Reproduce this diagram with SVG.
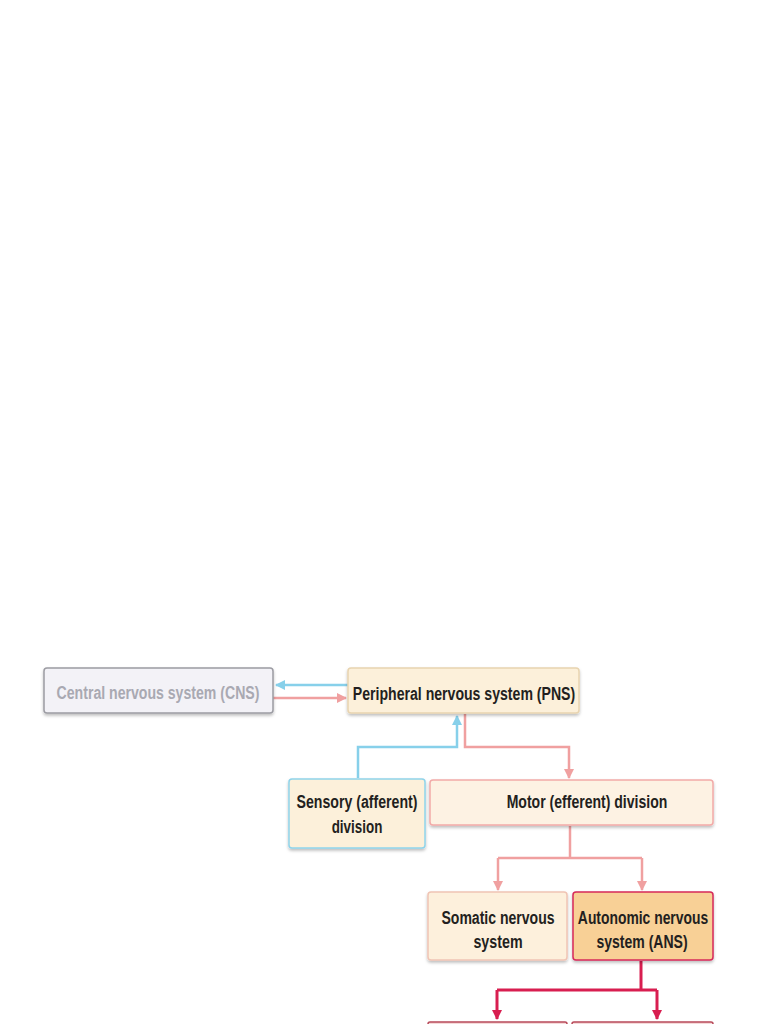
<svg xmlns="http://www.w3.org/2000/svg" width="768" height="1024" viewBox="0 0 768 1024">
<defs>
<filter id="sh" x="-10%" y="-10%" width="120%" height="140%">
<feDropShadow dx="0" dy="2" stdDeviation="1.5" flood-color="#000" flood-opacity="0.25"/>
</filter>
<marker id="aBlue" viewBox="0 0 10 10" refX="9" refY="5" markerWidth="4" markerHeight="4" orient="auto" markerUnits="strokeWidth"><path d="M0,0 L10,5 L0,10 z" fill="#87d0ea"/></marker>
<marker id="aPink" viewBox="0 0 10 10" refX="9" refY="5" markerWidth="4" markerHeight="4" orient="auto" markerUnits="strokeWidth"><path d="M0,0 L10,5 L0,10 z" fill="#f0a0a0"/></marker>
<marker id="aRed" viewBox="0 0 10 10" refX="9" refY="5" markerWidth="3.5" markerHeight="3.5" orient="auto" markerUnits="strokeWidth"><path d="M0,0 L10,5 L0,10 z" fill="#d81e50"/></marker>
</defs>
<style>
text{font-family:"Liberation Sans",Arial,sans-serif;font-weight:bold;font-size:19px;fill:#231f20;text-anchor:middle}
.box{filter:url(#sh);stroke-width:1.5}
.blue{fill:none;stroke:#87d0ea;stroke-width:2.5}
.pink{fill:none;stroke:#f0a0a0;stroke-width:2.5}
.red{fill:none;stroke:#d81e50;stroke-width:3}
</style>
<rect width="768" height="1024" fill="#ffffff"/>
<g id="connectors">
<path class="blue" d="M349,685 H276" marker-end="url(#aBlue)"/>
<path class="pink" d="M273,698 H346" marker-end="url(#aPink)"/>
<path class="blue" d="M358,778 V747 H457 V716" marker-end="url(#aBlue)"/>
<path class="pink" d="M465,714 V747 H569 V778" marker-end="url(#aPink)"/>
<path class="pink" d="M570,826 V858"/>
<path class="pink" d="M498,858 H642"/>
<path class="pink" d="M498,858 V890" marker-end="url(#aPink)"/>
<path class="pink" d="M642,858 V890" marker-end="url(#aPink)"/>
<path class="red" d="M641,961 V990"/>
<path class="red" d="M497,990 H657"/>
<path class="red" d="M497,990 V1019" marker-end="url(#aRed)"/>
<path class="red" d="M657,990 V1019" marker-end="url(#aRed)"/>
</g>
<g id="cns">
<rect class="box" x="44" y="668" width="229" height="45" rx="3" fill="#f3f2f7" stroke="#9c9ca3"/>
<text transform="translate(158,699) scale(0.78,1)" textLength="260" lengthAdjust="spacingAndGlyphs" style="fill:#a9a9b2">Central nervous system (CNS)</text>
</g>
<g id="pns">
<rect class="box" x="348" y="668" width="231" height="45" rx="3" fill="#fcf0da" stroke="#e8d4b0"/>
<text transform="translate(464,700) scale(0.78,1)" textLength="285" lengthAdjust="spacingAndGlyphs">Peripheral nervous system (PNS)</text>
</g>
<g id="sensory">
<rect class="box" x="289" y="779" width="136" height="69" rx="3" fill="#fcf0da" stroke="#8ed3ea"/>
<text transform="translate(357,808) scale(0.78,1)" textLength="155" lengthAdjust="spacingAndGlyphs">Sensory (afferent)</text>
<text transform="translate(357,833) scale(0.78,1)" textLength="65" lengthAdjust="spacingAndGlyphs">division</text>
</g>
<g id="motor">
<rect class="box" x="430" y="780" width="283" height="45" rx="3" fill="#fdf2e3" stroke="#f2aaa8"/>
<text transform="translate(587,808) scale(0.78,1)" textLength="206" lengthAdjust="spacingAndGlyphs">Motor (efferent) division</text>
</g>
<g id="somatic">
<rect class="box" x="428" y="892" width="139" height="68" rx="3" fill="#fdf0dc" stroke="#f0c4b4"/>
<text transform="translate(498,924) scale(0.78,1)" textLength="145" lengthAdjust="spacingAndGlyphs">Somatic nervous</text>
<text transform="translate(498,948) scale(0.78,1)" textLength="63" lengthAdjust="spacingAndGlyphs">system</text>
</g>
<g id="ans">
<rect class="box" x="573" y="892" width="140" height="68" rx="3" fill="#f8d096" stroke="#d62a5a"/>
<text transform="translate(643,924) scale(0.78,1)" textLength="167" lengthAdjust="spacingAndGlyphs">Autonomic nervous</text>
<text transform="translate(642,948) scale(0.78,1)" textLength="117" lengthAdjust="spacingAndGlyphs">system (ANS)</text>
</g>
<g id="sub1">
<rect x="428" y="1022" width="139" height="60" rx="2" fill="#f6d9d9" stroke="#b84a5a" stroke-width="1.5"/>
</g>
<g id="sub2">
<rect x="572" y="1022" width="141" height="60" rx="2" fill="#f6d9d9" stroke="#b84a5a" stroke-width="1.5"/>
</g>
</svg>
